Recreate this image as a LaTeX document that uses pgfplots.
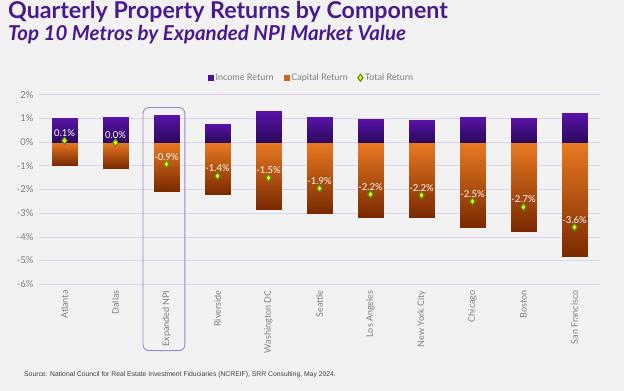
\documentclass[border=0pt]{standalone}
\usepackage{pgfplots}
\pgfplotsset{compat=1.18}
\usepgfplotslibrary{patchplots}
\usepackage{pgfplotstable}
\usepackage{fontspec}
\setmainfont{Lato}
\newfontfamily\arialfont{Liberation Sans}
\definecolor{bgC}{HTML}{F2F2F2}
\definecolor{titleC}{HTML}{4A1A8C}
\definecolor{incTop}{HTML}{5A12A8}
\definecolor{incBot}{HTML}{2B0A5E}
\definecolor{capTop}{HTML}{EA7A22}
\definecolor{capBot}{HTML}{7A2A00}
\definecolor{gridC}{HTML}{DCD4F0}
\definecolor{tickC}{HTML}{7F7F7F}
\definecolor{markFill}{HTML}{E6F000}
\definecolor{markEdge}{HTML}{4E8E20}
\definecolor{hiC}{HTML}{9C88CC}

% Bars as rectangle patches: x, y, meta (1 = top colour, 0 = bottom colour)
\pgfplotstableread{
x y c
-0.25 0 1
0.25 0 1
0.25 -0.96 0
-0.25 -0.96 0
0.75 0 1
1.25 0 1
1.25 -1.09 0
0.75 -1.09 0
1.75 0 1
2.25 0 1
2.25 -2.08 0
1.75 -2.08 0
2.75 0 1
3.25 0 1
3.25 -2.20 0
2.75 -2.20 0
3.75 0 1
4.25 0 1
4.25 -2.81 0
3.75 -2.81 0
4.75 0 1
5.25 0 1
5.25 -3.00 0
4.75 -3.00 0
5.75 0 1
6.25 0 1
6.25 -3.17 0
5.75 -3.17 0
6.75 0 1
7.25 0 1
7.25 -3.17 0
6.75 -3.17 0
7.75 0 1
8.25 0 1
8.25 -3.57 0
7.75 -3.57 0
8.75 0 1
9.25 0 1
9.25 -3.76 0
8.75 -3.76 0
9.75 0 1
10.25 0 1
10.25 -4.81 0
9.75 -4.81 0
}\captable

\pgfplotstableread{
x y c
-0.25 1.02 1
0.25 1.02 1
0.25 0 0
-0.25 0 0
0.75 1.07 1
1.25 1.07 1
1.25 0 0
0.75 0 0
1.75 1.15 1
2.25 1.15 1
2.25 0 0
1.75 0 0
2.75 0.77 1
3.25 0.77 1
3.25 0 0
2.75 0 0
3.75 1.30 1
4.25 1.30 1
4.25 0 0
3.75 0 0
4.75 1.05 1
5.25 1.05 1
5.25 0 0
4.75 0 0
5.75 0.97 1
6.25 0.97 1
6.25 0 0
5.75 0 0
6.75 0.93 1
7.25 0.93 1
7.25 0 0
6.75 0 0
7.75 1.07 1
8.25 1.07 1
8.25 0 0
7.75 0 0
8.75 1.02 1
9.25 1.02 1
9.25 0 0
8.75 0 0
9.75 1.22 1
10.25 1.22 1
10.25 0 0
9.75 0 0
}\inctable

\pgfplotstableread{
x total label
0 0.06 0.1
1 -0.02 0.0
2 -0.93 -0.9
3 -1.43 -1.4
4 -1.51 -1.5
5 -1.95 -1.9
6 -2.20 -2.2
7 -2.24 -2.2
8 -2.50 -2.5
9 -2.74 -2.7
10 -3.59 -3.6
}\totaltable

\begin{document}
\begin{tikzpicture}
\fill[bgC] (0bp,0bp) rectangle (624bp,391bp);
\node[anchor=base west, inner sep=0pt, text=titleC, font=\fontsize{23.2bp}{27bp}\selectfont\bfseries] at (8bp,372.7bp) {Quarterly Property Returns by Component};
\node[anchor=base west, inner sep=0pt, text=titleC, font=\fontsize{20.5bp}{24bp}\selectfont\bfseries\itshape] at (8bp,350.5bp) {Top 10 Metros by Expanded NPI Market Value};
\node[anchor=base west, inner sep=0pt, text=black!75, font=\arialfont\fontsize{6.8bp}{8bp}\selectfont] at (24bp,14.3bp) {Source: National Council for Real Estate Investment Fiduciaries (NCREIF), SRR Consulting, May 2024.};
\begin{axis}[
  at={(39bp,106.7bp)}, anchor=south west,
  scale only axis, width=561bp, height=189.6bp,
  xmin=-0.5, xmax=10.5, ymin=-6, ymax=2,
  axis line style={draw=none},
  major tick length=0pt,
  ytick={-6,-5,-4,-3,-2,-1,0,1,2},
  yticklabels={-6\%,-5\%,-4\%,-3\%,-2\%,-1\%,0\%,1\%,2\%},
  ymajorgrids, grid style={gridC, line width=0.8pt},
  xtick={0,...,10},
  xticklabels={Atlanta,Dallas,Expanded NPI,Riverside,Washington DC,Seattle,Los Angeles,New York City,Chicago,Boston,San Francisco},
  xticklabel style={rotate=90, anchor=east, text=tickC, font=\fontsize{9bp}{10bp}\selectfont, inner sep=0pt, xshift=-6bp},
  yticklabel style={text=tickC, font=\fontsize{9.5bp}{11bp}\selectfont, xshift=-2bp},
  /pgf/number format/assume math mode=true,
  point meta min=0, point meta max=1,
  clip=false,
  legend columns=3,
  legend style={draw=none, fill=none, at={(0.5,1)}, anchor=center, xshift=-8bp, yshift=17bp,
    font=\fontsize{9bp}{10bp}\selectfont, text=tickC,
    /tikz/every even column/.append style={column sep=8bp}},
  legend cell align=left,
]
\addplot[patch, patch type=rectangle, shader=interp, forget plot,
  colormap={capmap}{color=(capBot) color=(capTop)}, point meta=\thisrow{c}]
  table[x=x, y=y] {\captable};
\addplot[patch, patch type=rectangle, shader=interp, forget plot,
  colormap={incmap}{color=(incBot) color=(incTop)}, point meta=\thisrow{c}]
  table[x=x, y=y] {\inctable};
\addlegendimage{legend image code/.code={\fill[incTop!75!incBot] (0bp,-2.7bp) rectangle (5.4bp,2.7bp);}}
\addlegendentry{Income Return}
\addlegendimage{legend image code/.code={\fill[capTop!75!capBot] (0bp,-2.7bp) rectangle (5.4bp,2.7bp);}}
\addlegendentry{Capital Return}
\addplot[only marks, mark=diamond*, mark size=3.6bp, mark options={fill=markFill, draw=markEdge, line width=1pt},
  point meta=explicit symbolic,
  nodes near coords={\pgfplotspointmeta\%},
  every node near coord/.append style={anchor=south, text=white, font=\fontsize{9.5bp}{11bp}\selectfont, yshift=2.5bp, inner sep=1pt}]
  table[x=x, y=total, meta=label] {\totaltable};
\addlegendentry{Total Return}
\draw[hiC, line width=0.9pt, rounded corners=6bp] (axis cs:1.54,1.46) rectangle (axis cs:2.36,-8.8);
\end{axis}
\end{tikzpicture}
\end{document}
